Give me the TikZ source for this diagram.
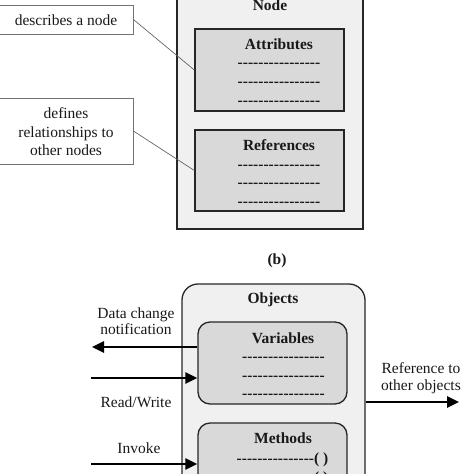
\documentclass[tikz,border=0pt]{standalone}
\usepackage{fontspec}
\setmainfont{Liberation Serif}[Ligatures=TeXOff]
\usetikzlibrary{arrows.meta}
\newcommand\dashrow{----------------}
\newcommand\methrow{---------------( )}
\begin{document}
\begin{tikzpicture}[x=1pt,y=-1pt,
  lbl/.style={inner sep=0pt, font=\fontsize{15.5}{18.5}\selectfont, text=black!90},
  blbl/.style={inner sep=0pt, font=\fontsize{15.5}{19}\selectfont\bfseries, text=black!90},
  outerbox/.style={draw=black!85, line width=1.3pt, fill=black!6, inner sep=0pt},
  innerbox/.style={draw=black!85, line width=1.3pt, fill=black!15, inner sep=0pt},
  notebox/.style={draw=black!55, line width=0.8pt, fill=white, inner sep=0pt},
  leader/.style={draw=black!60, line width=0.7pt},
  arr/.style={line width=2.6pt, -{Triangle[length=12pt,width=11pt]}}
]
\useasboundingbox (0,0) rectangle (474,474);
% ---------- (a) part ----------
\node[outerbox, minimum width=186pt, minimum height=239pt] (nodebox) at (270,109.5) {};
\node[innerbox, minimum width=149pt, minimum height=82pt] (attr) at (269.5,70) {};
\node[innerbox, minimum width=149pt, minimum height=81pt] (refs) at (269.5,170.5) {};
\node[notebox, minimum width=134pt, minimum height=29pt] (desc) at (66,19.5) {};
\node[notebox, minimum width=134pt, minimum height=66pt] (defs) at (66,131) {};
\draw[leader] (desc.east) -- (attr.west);
\draw[leader] (defs.east) -- (refs.west);

\node[blbl, anchor=base] (nodet) at (270,10) {Node};
\node[blbl, anchor=base] (attrt) at (279,49) {Attributes};
\node[blbl, anchor=base] (attr1) at (279,67) {\dashrow};
\node[blbl, anchor=base] (attr2) at (279,86) {\dashrow};
\node[blbl, anchor=base] (attr3) at (279,105) {\dashrow};
\node[blbl, anchor=base] (refst) at (279,150) {References};
\node[blbl, anchor=base] (refs1) at (279,169) {\dashrow};
\node[blbl, anchor=base] (refs2) at (279,187) {\dashrow};
\node[blbl, anchor=base] (refs3) at (279,206) {\dashrow};
\node[lbl, anchor=base] (desct) at (66,25) {describes a node};
\node[lbl, align=center] (defst) at (66,132) {defines\\relationships to\\other nodes};

\node[blbl, anchor=base] (bt) at (277,264) {(b)};

% ---------- (b) part ----------
\node[outerbox, rounded corners=16pt, minimum width=183pt, minimum height=256pt] (obj) at (273.5,412) {};
\node[innerbox, rounded corners=12pt, minimum width=149pt, minimum height=82pt] (var) at (272.5,363) {};
\node[innerbox, rounded corners=12pt, minimum width=149pt, minimum height=82pt] (meth) at (272.5,464) {};

\node[blbl, anchor=base] (objt) at (273,303) {Objects};
\node[blbl, anchor=base] (vart) at (283,343) {Variables};
\node[blbl, anchor=base] (var1) at (283.5,361) {\dashrow};
\node[blbl, anchor=base] (var2) at (283.5,380) {\dashrow};
\node[blbl, anchor=base] (var3) at (283.5,398) {\dashrow};
\node[blbl, anchor=base] (metht) at (283,443) {Methods};
\node[blbl, anchor=base] (meth1) at (282.5,463) {\methrow};
\node[blbl, anchor=base] (meth2) at (282.5,482) {\methrow};

\coordinate (dcn) at (92,347);
\coordinate (rw) at (91,378);
\coordinate (inv) at (91,464);
\coordinate (ref) at (459,402);
\draw[arr] (var.west |- dcn) -- (dcn);
\draw[arr] (rw) -- (rw -| var.west);
\draw[arr] (inv) -- (inv -| meth.west);
\draw[arr] (ref -| obj.east) -- (ref);

\node[lbl, align=center, font=\fontsize{15.5}{16.5}\selectfont] (dcnt) at (136,321) {Data change\\notification};
\node[lbl, anchor=base] (rwt) at (136,407) {Read/Write};
\node[lbl, anchor=base] (invt) at (139,453) {Invoke};
\node[lbl, align=center, font=\fontsize{15.5}{17}\selectfont] (reft) at (421,378) {Reference to\\other objects};
\end{tikzpicture}
\end{document}
